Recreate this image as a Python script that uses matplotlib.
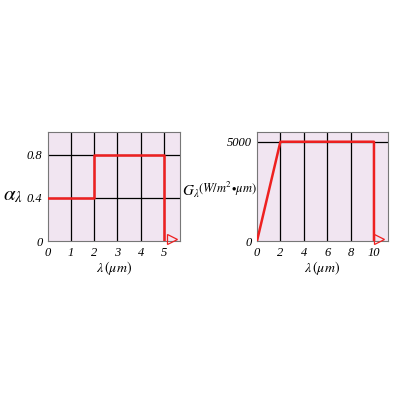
import matplotlib.pyplot as plt

# absorptivity (left panel)
alpha_x = [0, 2, 2, 5, 5]
alpha_y = [0.4, 0.4, 0.8, 0.8, 0]
alpha_xticks = [0, 1, 2, 3, 4, 5]
alpha_yticks = [0, 0.4, 0.8]
alpha_ytick_labels = ["0", "0.4", "0.8"]

# irradiation (right panel)
g_x = [0, 2, 10, 10]
g_y = [0, 5000, 5000, 0]
g_xticks = [0, 2, 4, 6, 8, 10]
g_yticks = [0, 5000]

bg = "#f1e5f1"
red = "#ee2020"
font = "Liberation Serif"
plt.rcParams["mathtext.fontset"] = "stix"

fig = plt.figure(figsize=(4, 4), dpi=100)

def style(ax):
    ax.set_facecolor(bg)
    for s in ax.spines.values():
        s.set_color("#777777")
        s.set_linewidth(0.8)
    ax.tick_params(length=0, pad=4, labelsize=9)
    for lab in ax.get_xticklabels() + ax.get_yticklabels():
        lab.set_fontfamily(font)
        lab.set_fontstyle("italic")

# left panel
ax1 = fig.add_axes([0.12, 0.3975, 0.33, 0.2725])
ax1.set_xlim(0, 5.7)
ax1.set_ylim(0, 1.01)
for v in alpha_xticks[1:]:
    ax1.axvline(v, color="black", lw=0.9, zorder=1)
for v in alpha_yticks[1:]:
    ax1.axhline(v, color="black", lw=0.9, zorder=1)
ax1.plot(alpha_x, alpha_y, color=red, lw=1.8, zorder=3)
ax1.plot([5.35], [0.02], marker=">", ms=7, mfc="none", mec=red, mew=0.9, zorder=3, clip_on=False)
ax1.set_xticks(alpha_xticks)
ax1.set_yticks(alpha_yticks)
ax1.set_yticklabels(alpha_ytick_labels)
style(ax1)
ax1.set_xlabel(r"$\lambda\,(\mu m)$", fontsize=10, labelpad=0)
fig.text(0.008, 0.512, r"$\alpha_{\lambda}$", fontsize=15, va="center")

# right panel
ax2 = fig.add_axes([0.6425, 0.3975, 0.3275, 0.2725])
ax2.set_xlim(0, 11.2)
ax2.set_ylim(0, 5490)
for v in g_xticks[1:-1]:
    ax2.axvline(v, color="black", lw=0.9, zorder=1)
ax2.axhline(5000, color="black", lw=0.9, zorder=1)
ax2.plot(g_x, g_y, color=red, lw=1.8, zorder=3)
ax2.plot([10.4], [100], marker=">", ms=7, mfc="none", mec=red, mew=0.9, zorder=3, clip_on=False)
ax2.set_xticks(g_xticks)
ax2.set_yticks(g_yticks)
style(ax2)
ax2.set_xlabel(r"$\lambda\,(\mu m)$", fontsize=10, labelpad=0)
fig.text(0.455, 0.52, r"$G_{\lambda}$", fontsize=11, va="center")
fig.text(0.495, 0.527, r"$(W/m^2\!\bullet\!\mu m)$", fontsize=9, va="center")

fig.savefig("out.png", dpi=100)
